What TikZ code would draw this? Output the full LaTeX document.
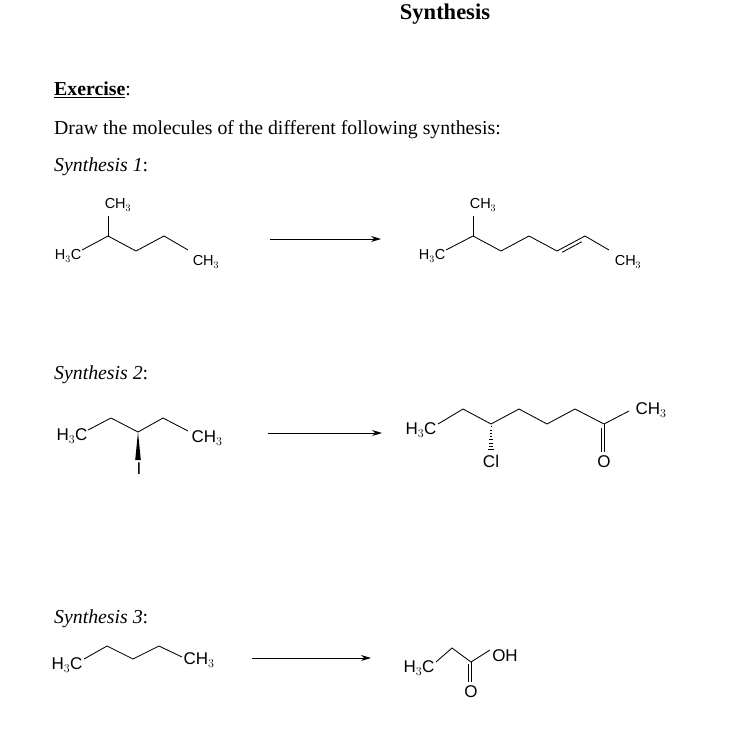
\documentclass[tikz,border=0pt]{standalone}
\usepackage{fontspec}
\setmainfont{Liberation Serif}
\newfontfamily\arial{Liberation Sans}
\usetikzlibrary{calc,arrows.meta}
\begin{document}
\begin{tikzpicture}[x=1pt,y=-1pt,
  txt/.style={anchor=west,inner sep=0pt,font=\fontsize{19.8}{23}\selectfont},
  lab/.style={inner sep=0pt,font=\arial\fontsize{14.5}{16}\selectfont},
  labb/.style={inner sep=0pt,font=\arial\fontsize{17}{19}\selectfont},
  bond/.style={line width=0.85pt},
  arr/.style={line width=1pt,-{Stealth[length=10pt,width=6pt]}}]
\useasboundingbox (0,0) rectangle (750,745);
\node[inner sep=0pt,font=\bfseries\fontsize{22.5}{26}\selectfont] (title) at (445,14) {Synthesis};
\node[txt] (ex) at (54,90) {\textbf{\underline{Exercise}}:};
\node[txt] (draw) at (54,130) {Draw the molecules of the different following synthesis:};
\node[txt] (s1) at (54,167) {\textit{Synthesis 1}:};
\node[txt] (s2) at (54,375) {\textit{Synthesis 2}:};
\node[txt] (s3) at (54,619) {\textit{Synthesis 3}:};

% Synthesis 1 left
\node[lab] (l1a) at (68,256) {H$_3$C};
\node[lab] (l1b) at (118,205) {CH$_3$};
\node[lab] (l1c) at (206,262) {CH$_3$};
\coordinate (a1) at (82,250); \coordinate (b1) at (108,236);
\coordinate (t1) at (108,216); \coordinate (c1) at (136,251);
\coordinate (d1) at (164,236); \coordinate (e1) at (188,250);
\draw[bond] (a1)--(b1)--(c1)--(d1)--(e1); \draw[bond] (b1)--(t1);
\coordinate (p1) at (270,239); \coordinate (q1) at (381,239);
\draw[arr] (p1)--(q1);
% Synthesis 1 right
\node[lab] (r1a) at (432,256) {H$_3$C};
\node[lab] (r1b) at (483,205) {CH$_3$};
\node[lab] (r1c) at (628,262) {CH$_3$};
\coordinate (ra) at (446,250); \coordinate (rb) at (473,236);
\coordinate (rt) at (473,216); \coordinate (rc) at (501,251);
\coordinate (rd) at (529,236); \coordinate (re) at (557,251);
\coordinate (rf) at (585,236); \coordinate (rg) at (609,250);
\draw[bond] (ra)--(rb)--(rc)--(rd)--(re)--(rf)--(rg); \draw[bond] (rb)--(rt);
\draw[bond] ($(re)!0.15!(rf)+(1,3.5)$)--($(re)!0.85!(rf)+(1,3.5)$);

% Synthesis 2 left
\node[labb] (l2a) at (72,436) {H$_3$C};
\node[labb] (l2b) at (207,438) {CH$_3$};
\node[labb] (l2i) at (139,469) {I};
\coordinate (a2) at (88,430); \coordinate (b2) at (111,418);
\coordinate (c2) at (138,432); \coordinate (d2) at (163,418);
\coordinate (e2) at (188,431); \coordinate (w2) at (138,460);
\draw[bond] (a2)--(b2)--(c2)--(d2)--(e2);
\fill (c2) -- ($(w2)+(-2.8,0)$) -- ($(w2)+(2.8,0)$) -- cycle;
\coordinate (p2) at (268,433); \coordinate (q2) at (382,433);
\draw[arr] (p2)--(q2);
% Synthesis 2 right
\node[labb] (r2a) at (421,430) {H$_3$C};
\node[labb] (r2cl) at (491,461) {Cl};
\node[labb] (r2o) at (604,462) {O};
\node[labb] (r2b) at (651,410) {CH$_3$};
\coordinate (sa) at (438,424); \coordinate (sb) at (463,409);
\coordinate (sc) at (491,424); \coordinate (sd) at (519,409);
\coordinate (se) at (547,424); \coordinate (sf) at (575,409);
\coordinate (sg) at (604,424); \coordinate (sh) at (629,411);
\coordinate (sx) at (491,451); \coordinate (so) at (604,452);
\draw[bond] (sa)--(sb)--(sc)--(sd)--(se)--(sf)--(sg)--(sh);
\foreach \t in {0.1,0.22,...,1.0}{
  \draw[line width=0.6pt] ($(sc)!\t!(sx)+(-\t*2.8,0)$)--($(sc)!\t!(sx)+(\t*2.8,0)$);}
\draw[bond] (sg)--(so); \draw[bond] ($(sg)+(-3,4)$)--($(so)+(-3,0)$);

% Synthesis 3 left
\node[labb] (l3a) at (67,665) {H$_3$C};
\node[labb] (l3b) at (199,660) {CH$_3$};
\coordinate (a3) at (84,659); \coordinate (b3) at (107,646);
\coordinate (c3) at (133,659); \coordinate (d3) at (159,646);
\coordinate (e3) at (182,657);
\draw[bond] (a3)--(b3)--(c3)--(d3)--(e3);
\coordinate (p3) at (252,658); \coordinate (q3) at (371,658);
\draw[arr] (p3)--(q3);
% Synthesis 3 right
\node[labb] (r3a) at (419,668) {H$_3$C};
\node[labb] (r3oh) at (505,656) {OH};
\node[labb] (r3o) at (471,692) {O};
\coordinate (ua) at (436,662); \coordinate (ub) at (452,648);
\coordinate (uc) at (471,662); \coordinate (ud) at (490,650);
\coordinate (uo) at (471,682);
\draw[bond] (ua)--(ub)--(uc)--(ud); \draw[bond] (uc)--(uo);
\draw[bond] ($(uc)+(-3,2)$)--($(uo)+(-3,0)$);
\end{tikzpicture}
\end{document}
